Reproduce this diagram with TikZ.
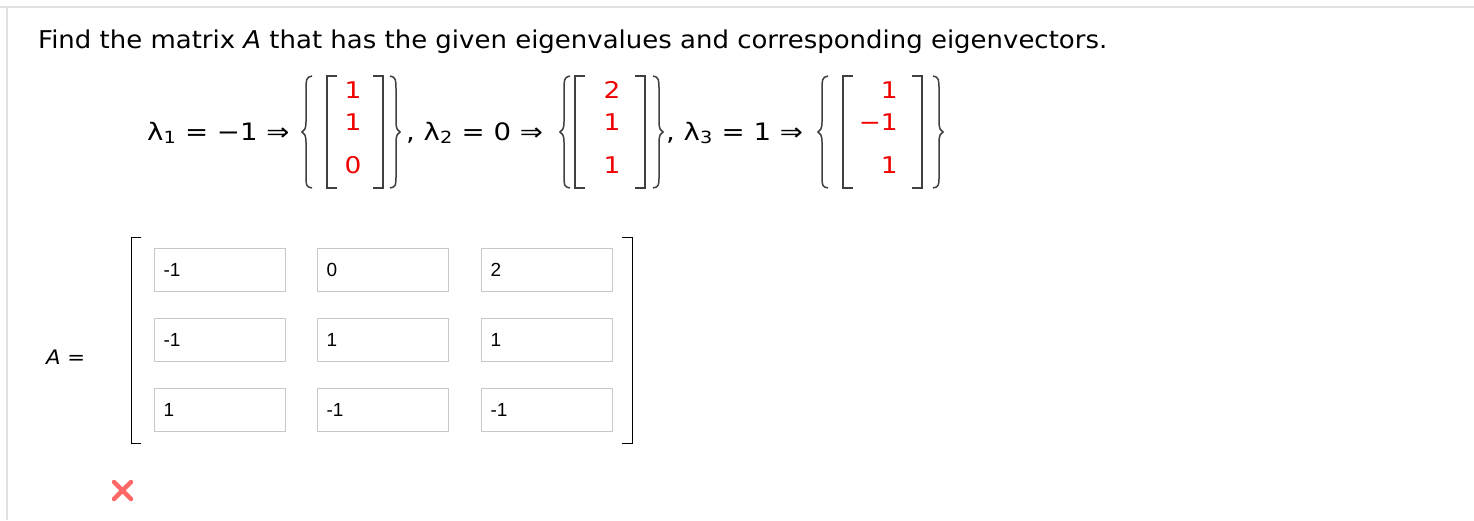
\documentclass[tikz,border=0pt]{standalone}
\usepackage{fontspec}
\setmainfont{DejaVu Sans}[FakeStretch=1.06]
\newfontfamily\eigfont{DejaVu Sans}[FakeStretch=1.15]
\newfontfamily\arial{Liberation Sans}
\definecolor{ered}{HTML}{F00000}
\definecolor{boxg}{HTML}{C8C8C8}
\newcommand{\mylbrc}[1]{\draw[delim] (#1+10,76) .. controls (#1+4,77) and (#1+4,80) .. (#1+4,90) -- (#1+4,122) .. controls (#1+4,129) and (#1+2,131) .. (#1,132) .. controls (#1+2,133) and (#1+4,135) .. (#1+4,142) -- (#1+4,176) .. controls (#1+4,185) and (#1+4,187) .. (#1+10,188);}
\newcommand{\myrbrc}[1]{\draw[delim] (#1-10,76) .. controls (#1-4,77) and (#1-4,80) .. (#1-4,90) -- (#1-4,122) .. controls (#1-4,129) and (#1-2,131) .. (#1,132) .. controls (#1-2,133) and (#1-4,135) .. (#1-4,142) -- (#1-4,176) .. controls (#1-4,185) and (#1-4,187) .. (#1-10,188);}
\newcommand{\mylbrk}[1]{\draw[delim] (#1+10,76) -- (#1,76) -- (#1,188) -- (#1+10,188);}
\newcommand{\myrbrk}[1]{\draw[delim] (#1-10,76) -- (#1,76) -- (#1,188) -- (#1-10,188);}
\begin{document}
\begin{tikzpicture}[x=1pt,y=-1pt,
  delim/.style={line width=1.5pt,draw=black!75},
  cell/.style={draw=boxg,line width=1pt,minimum width=131pt,minimum height=43pt,anchor=north west,inner sep=0},
  ent/.style={anchor=west,font=\arial\fontsize{19}{22}\selectfont},
  eig/.style={anchor=base west,inner sep=0,font=\eigfont\fontsize{24}{28}\selectfont},
  num/.style={inner sep=0,text=ered,font=\eigfont\fontsize{23}{26}\selectfont}]
\useasboundingbox (0,0) rectangle (1474,520);
\fill[white] (0,0) rectangle (1474,520);
\draw[black!12,line width=2pt] (0,7) -- (1474,7);
\draw[black!12,line width=2pt] (7,7) -- (7,520);
\node[anchor=base west,inner sep=0,font=\fontsize{24.5}{28}\selectfont] (t) at (38,48) {Find the matrix \textit{A} that has the given eigenvalues and corresponding eigenvectors.};
\node[eig] (l1) at (147,140) {λ\textsubscript{1} = −1 ⇒};
\mylbrc{302} \mylbrk{327} \myrbrk{383} \myrbrc{400}
\node[num] (v11) at (353,90) {1};
\node[num] (v12) at (353,122) {1};
\node[num] (v13) at (353,165) {0};
\node[eig] (l2) at (406,140) {, λ\textsubscript{2} = 0 ⇒};
\mylbrc{560} \mylbrk{575} \myrbrk{645} \myrbrc{663}
\node[num] (v21) at (612,90) {2};
\node[num] (v22) at (612,122) {1};
\node[num] (v23) at (612,165) {1};
\node[eig] (l3) at (666,140) {, λ\textsubscript{3} = 1 ⇒};
\mylbrc{818} \mylbrk{843} \myrbrk{922} \myrbrc{943}
\node[num,anchor=east] (v31) at (898,90) {1};
\node[num,anchor=east] (v32) at (898,122) {−1};
\node[num,anchor=east] (v33) at (898,165) {1};
% matrix A
\node[anchor=west,inner sep=0,font=\fontsize{20}{24}\selectfont] (A) at (46,357) {\textit{A} =};
\draw[line width=1pt] (141,237) -- (131,237) -- (131,443) -- (141,443);
\draw[line width=1pt] (622,237) -- (632,237) -- (632,443) -- (622,443);
\foreach \r/\y/\a/\b/\c in {1/248/-1/0/2, 2/318/-1/1/1, 3/388/1/-1/-1}{
  \node[cell] (c\r1) at (154,\y) {};
  \node[cell] (c\r2) at (317,\y) {};
  \node[cell] (c\r3) at (481,\y) {};
  \node[ent] at ([xshift=6pt]c\r1.west) {\a};
  \node[ent] at ([xshift=6pt]c\r2.west) {\b};
  \node[ent] at ([xshift=6pt]c\r3.west) {\c};
}
\draw[color=red!60!white,line width=4.5pt,line cap=round] (114,482) -- (131,499) (131,482) -- (114,499);
\end{tikzpicture}
\end{document}
